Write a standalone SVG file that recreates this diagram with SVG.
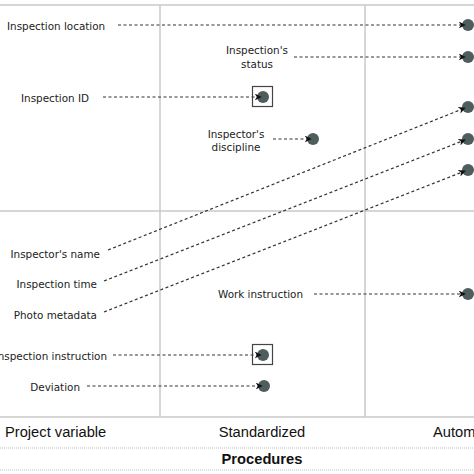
<svg xmlns="http://www.w3.org/2000/svg" width="474" height="474" viewBox="0 0 474 474">
<style>
.grid{stroke:#c9c9c9;stroke-width:1.5;fill:none}
.sep{stroke:#bdbdbd;stroke-width:1;stroke-dasharray:1 1;fill:none}
.lbl{font-family:"DejaVu Sans",Verdana,sans-serif;font-size:10.4px;fill:#222}
.axis{font-family:"Liberation Sans",Arial,sans-serif;font-size:14.7px;fill:#111}
.conn{stroke:#333;stroke-width:1.2;stroke-dasharray:3 2.5;fill:none;marker-end:url(#ah)}
.dot{fill:#4f5d5d}
.box{fill:none;stroke:#444;stroke-width:1.2}
</style>
<defs>
<marker id="ah" viewBox="0 0 10 10" refX="9" refY="5" markerWidth="7" markerHeight="7" markerUnits="userSpaceOnUse" orient="auto">
<path d="M0,0 L10,5 L0,10 L3,5 z" fill="#111"/>
</marker>
</defs>
<rect width="474" height="474" fill="#fff"/>
<g id="grid">
<line class="grid" x1="0" y1="5" x2="474" y2="5"/>
<line class="grid" x1="0" y1="211" x2="474" y2="211"/>
<line class="grid" x1="0" y1="417" x2="474" y2="417"/>
<line class="grid" x1="160" y1="5" x2="160" y2="417"/>
<line class="grid" x1="365" y1="5" x2="365" y2="417"/>
<line class="sep" x1="0" y1="448" x2="474" y2="448"/>
<line class="sep" x1="0" y1="470" x2="474" y2="470"/>
</g>
<g id="axis">
<text class="axis" x="5" y="437">Project variable</text>
<text class="axis" x="262" y="437" text-anchor="middle">Standardized</text>
<text class="axis" x="433" y="437">Automated</text>
<text class="axis" x="262" y="464" text-anchor="middle" font-weight="bold">Procedures</text>
</g>
<g id="targets">
<circle class="dot" cx="468" cy="25" r="6"/>
<circle class="dot" cx="468" cy="57" r="6"/>
<rect class="box" x="252.5" y="86.5" width="20" height="20"/>
<circle class="dot" cx="263" cy="97" r="6"/>
<circle class="dot" cx="313" cy="139" r="6"/>
<circle class="dot" cx="468" cy="107" r="6"/>
<circle class="dot" cx="468" cy="139" r="6"/>
<circle class="dot" cx="468" cy="170" r="6"/>
<circle class="dot" cx="468" cy="294" r="6"/>
<rect class="box" x="252.5" y="344.5" width="20" height="20"/>
<circle class="dot" cx="263" cy="355" r="6"/>
<circle class="dot" cx="264" cy="386" r="6"/>
</g>
<g id="connectors">
<line class="conn" x1="118" y1="25" x2="465" y2="25"/>
<line class="conn" x1="294" y1="57" x2="465" y2="57"/>
<line class="conn" x1="103" y1="97" x2="261" y2="97"/>
<line class="conn" x1="273" y1="139" x2="311" y2="139"/>
<line class="conn" x1="108" y1="250" x2="465" y2="108"/>
<line class="conn" x1="104" y1="281" x2="465" y2="140"/>
<line class="conn" x1="104" y1="312" x2="465" y2="171"/>
<line class="conn" x1="314" y1="294" x2="465" y2="294"/>
<line class="conn" x1="113" y1="355" x2="261" y2="355"/>
<line class="conn" x1="87" y1="386" x2="262" y2="386"/>
</g>
<g id="n-location"><text class="lbl" x="7" y="29.5">Inspection location</text></g>
<g id="n-status"><text class="lbl" x="257" y="53.5" text-anchor="middle">Inspection's</text><text class="lbl" x="257" y="67.5" text-anchor="middle">status</text></g>
<g id="n-id"><text class="lbl" x="21" y="101.5">Inspection ID</text></g>
<g id="n-discipline"><text class="lbl" x="236" y="137.5" text-anchor="middle">Inspector's</text><text class="lbl" x="236" y="151" text-anchor="middle">discipline</text></g>
<g id="n-name"><text class="lbl" x="100" y="257.5" text-anchor="end">Inspector's name</text></g>
<g id="n-time"><text class="lbl" x="97" y="287.5" text-anchor="end">Inspection time</text></g>
<g id="n-photo"><text class="lbl" x="97" y="318.5" text-anchor="end">Photo metadata</text></g>
<g id="n-work"><text class="lbl" x="218" y="297.5">Work instruction</text></g>
<g id="n-instruction"><text class="lbl" x="107" y="359.5" text-anchor="end">Inspection instruction</text></g>
<g id="n-deviation"><text class="lbl" x="80" y="390.5" text-anchor="end">Deviation</text></g>
</svg>
